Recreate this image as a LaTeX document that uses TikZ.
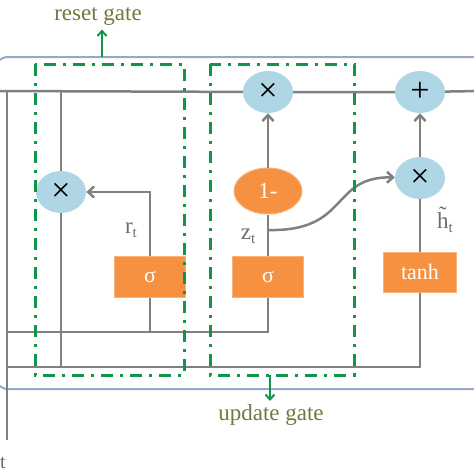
\documentclass[tikz,border=0pt]{standalone}
\usepackage{fontspec}
\setmainfont{Liberation Serif}
\usetikzlibrary{arrows.meta,shapes.geometric}
\definecolor{lineg}{RGB}{128,128,128}
\definecolor{gateo}{RGB}{245,145,65}
\definecolor{mulb}{RGB}{175,214,228}
\definecolor{gateg}{RGB}{16,150,72}
\definecolor{labg}{RGB}{112,122,62}
\definecolor{cellb}{RGB}{150,170,200}
\newcommand{\gsub}[2]{#1\raisebox{-0.4ex}{\fontsize{15}{15}\selectfont #2}}

\begin{document}
\begin{tikzpicture}[x=1pt,y=-1pt,
  wire/.style={lineg, line width=2.5pt},
  flow/.style={wire, -{Straight Barb[length=6pt,width=11pt]}},
  mul/.style={ellipse, fill=mulb, minimum width=50pt, minimum height=42pt, inner sep=0pt, font=\fontsize{34}{34}\selectfont},
  act/.style={rectangle, fill=gateo, draw=gateo!70!white, line width=1pt, minimum width=71pt, minimum height=41pt, text=white, font=\fontsize{22}{22}\selectfont},
  gatebox/.style={gateg, line width=3pt, dash pattern=on 12pt off 7pt on 3pt off 7pt},
  gatelbl/.style={labg, font=\fontsize{23}{23}\selectfont},
  sublbl/.style={lineg!85!black, font=\fontsize{23}{23}\selectfont}]
\useasboundingbox (0,0) rectangle (474,474);
\draw [cellb, line width=2pt, rounded corners=14pt] (-6,57) rectangle (500,389);

\coordinate (hin) at (-5,91);
\coordinate (hout) at (480,91);
\coordinate (xtop) at (7,91);
\coordinate (xin) at (7,440);
\coordinate (ra) at (7,332);
\coordinate (ua) at (7,367);
\coordinate (zbr) at (268,230);

\node [mul] (mulr) at (61,192) {×};
\node [act] (sigr) at (150,277) {σ};
\node [act] (sigz) at (268,277) {σ};
\node [mul, fill=gateo, draw=gateo!70!white, line width=1pt, text=white, minimum width=68pt, minimum height=46pt, font=\fontsize{23}{23}\selectfont] (onem) at (268,191) {1-};
\node [mul] (mulz) at (268,92) {×};
\node [mul] (add) at (420,92) {+};
\node [mul] (mulh) at (420,178) {×};
\node [act, minimum width=73pt, minimum height=40pt] (tanh) at (420,272) {tanh};

\draw [wire] (hin) -- (mulz) -- (add) -- (hout);
\draw [wire] (xtop) -- (xin);
\draw [wire] (mulr |- hin) -- (mulr);
\draw [wire] (mulr) -- (mulr |- ua);
\draw [wire] (sigz) |- (ra);
\draw [wire] (sigr) -- (sigr |- ra);
\draw [wire] (tanh) |- (ua);
\draw [flow] (sigr) |- (mulr);
\draw [wire] (sigz) -- (onem);
\draw [flow] (onem) -- (mulz);
\draw [flow] (zbr) .. controls (350,232) and (330,176) .. (mulh);
\draw [wire] (tanh) -- (mulh);
\draw [flow] (mulh) -- (add);

\node [sublbl] (rlbl) at (131,230) {\gsub{r}{t}};
\node [sublbl] (zlbl) at (248,236) {\gsub{z}{t}};
\node [sublbl] (hlbl) at (445,220) {\gsub{\~{h}}{t}};
\node [sublbl, font=\fontsize{20}{20}\selectfont, anchor=west, inner sep=0pt] (xlbl) at (0,463) {t};

\draw [gatebox] (35,64) rectangle (184,375);
\draw [gatebox] (210,64) rectangle (354,375);

\node [gatelbl] (resetlbl) at (98,17) {reset gate};
\node [gatelbl] (updatelbl) at (271,415) {update gate};
\coordinate (rg) at (102,57);
\coordinate (ug) at (270,375);
\draw [gateg, line width=2pt, -{Straight Barb[length=5pt,width=9pt]}] (rg) -- (rg |- resetlbl.south);
\draw [gateg, line width=2pt, -{Straight Barb[length=5pt,width=9pt]}] (ug) -- (ug |- updatelbl.north);
\end{tikzpicture}
\end{document}
